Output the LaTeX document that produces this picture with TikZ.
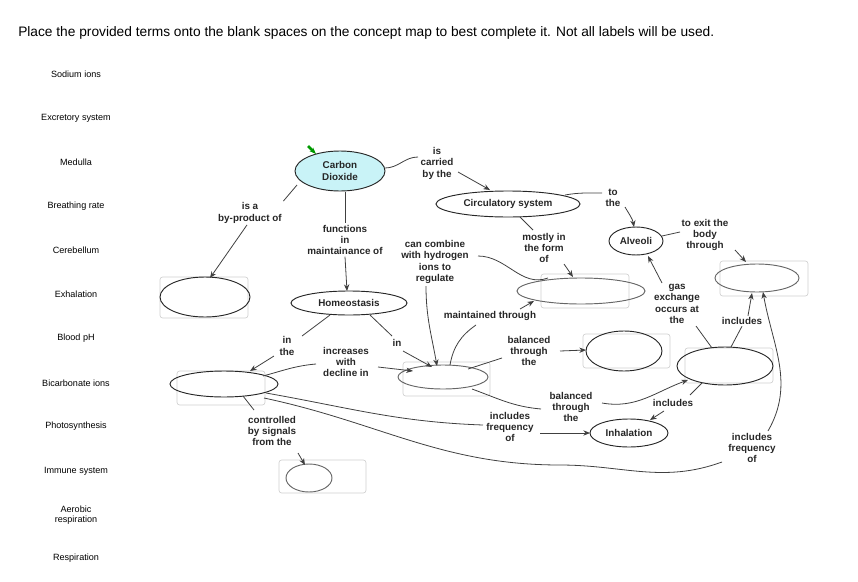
\documentclass[tikz,border=0pt]{standalone}
\usepackage{fontspec}
\setmainfont{Liberation Sans}
\usetikzlibrary{arrows.meta}
\definecolor{cyanfill}{HTML}{C9F3F7}
\definecolor{boxgray}{HTML}{D0D0D0}
\begin{document}
\begin{tikzpicture}[x=0.75pt,y=-0.75pt,
  concept/.style={draw=black!85,line width=0.7pt},
  lbl/.style={font=\fontsize{7.4}{8.6}\selectfont\bfseries,align=center,inner sep=1pt,text=black!85},
  term/.style={font=\fontsize{6.8}{8}\selectfont,align=center},
  con/.style={draw=black!75,line width=0.6pt},
  arr/.style={con,-{Stealth[length=5pt,width=4pt]}},
  blankbox/.style={draw=boxgray,rounded corners=2pt,line width=0.5pt}]
\useasboundingbox (0,0) rectangle (858,582);
\node[anchor=west,inner sep=0pt,font=\fontsize{10.3}{12}\selectfont] (head) at (18,33) {Place the provided terms onto the blank spaces on the concept map to best complete it. Not all labels will be used.};
% term list
\foreach \t/\y/\n in {Sodium ions/74/t1,Excretory system/118/t2,Medulla/162/t3,Breathing rate/206/t4,Cerebellum/250/t5,Exhalation/294/t6,Blood pH/338/t7,Bicarbonate ions/383/t8,Photosynthesis/426/t9,Immune system/471/t10,Aerobic\\respiration/515/t11,Respiration/558/t12}
  \node[term] (\n) at (76,\y) {\t};
% blank boxes
\draw[blankbox] (160,277) rectangle (248,318);
\draw[blankbox] (541,274) rectangle (629,308);
\draw[blankbox] (720,261) rectangle (808,296);
\draw[blankbox] (177,371) rectangle (265,405);
\draw[blankbox] (403,362) rectangle (490,396);
\draw[blankbox] (583,334) rectangle (670,368);
\draw[blankbox] (685,348) rectangle (773,383);
\draw[blankbox] (279,460) rectangle (366,493);
% concepts
\draw[concept,fill=cyanfill] (340,171) ellipse [x radius=45,y radius=20];
\node[lbl] (co2) at (340,171) {Carbon\\Dioxide};
\draw[concept] (508,204) ellipse [x radius=72,y radius=13];
\node[lbl] (circ) at (508,204) {Circulatory system};
\draw[concept] (636,241) ellipse [x radius=27,y radius=14];
\node[lbl] (alv) at (636,241) {Alveoli};
\draw[concept] (349,303) ellipse [x radius=58,y radius=12];
\node[lbl] (homeo) at (349,303) {Homeostasis};
\draw[concept] (629,433) ellipse [x radius=39,y radius=14];
\node[lbl] (inh) at (629,433) {Inhalation};
\draw[concept] (205,297) ellipse [x radius=45,y radius=20];
\draw[concept,black!60] (581,291) ellipse [x radius=64,y radius=13];
\draw[concept,black!60] (757,278) ellipse [x radius=42,y radius=14];
\draw[concept] (224,384) ellipse [x radius=54,y radius=13];
\draw[concept,black!60] (443,377) ellipse [x radius=45,y radius=12];
\draw[concept] (624,351) ellipse [x radius=38,y radius=20];
\draw[concept] (725,366) ellipse [x radius=48,y radius=19];
\draw[concept,black!60] (309,478) ellipse [x radius=23,y radius=14];
% green pin
\draw[green!60!black,line width=2pt,-{Stealth[length=5pt]}] (308,146) -- (316,154);
% labels
\node[lbl] (l1) at (250,213) {is a\\by-product of};
\node[lbl] (l2) at (437,163) {is\\carried\\by the};
\node[lbl] (l3) at (345,240) {functions\\in\\maintainance of};
\node[lbl] (l4) at (435,262) {can combine\\with hydrogen\\ions to\\regulate};
\node[lbl] (l5) at (544,248) {mostly in\\the form\\of};
\node[lbl] (l6) at (613,198) {to\\the};
\node[lbl] (l7) at (705,235) {to exit the\\body\\through};
\node[lbl] (l8) at (677,304) {gas\\exchange\\occurs at\\the};
\node[lbl] (l9) at (742,321) {includes};
\node[lbl] (l10) at (490,316) {maintained through};
\node[lbl] (l11) at (287,346) {in\\the};
\node[lbl] (l12) at (397,343) {in};
\node[lbl] (l13) at (346,362) {increases\\with\\decline in};
\node[lbl] (l14) at (529,351) {balanced\\through\\the};
\node[lbl] (l15) at (571,407) {balanced\\through\\the};
\node[lbl] (l16) at (673,403) {includes};
\node[lbl] (l17) at (510,427) {includes\\frequency\\of};
\node[lbl] (l18) at (272,431) {controlled\\by signals\\from the};
\node[lbl] (l19) at (752,448) {includes\\frequency\\of};
% connectors
\draw[con] (297,185) -- (l1.north east);
\draw[arr] (l1.south) ++(-3,0) -- (210,278);
\draw[con] (385,168) to[out=0,in=180] (418,157);
\draw[arr] (458,172) -- (490,190);
\draw[con] (345,192) -- (l3.north);
\draw[arr] (l3.south) -- (347,291);
\draw[con] (520,217) -- (533,230);
\draw[arr] (564,264) -- (573,277);
\draw[con] (565,195) to[out=10,in=180] (602,193);
\draw[arr] (625,207) to[out=-60,in=100] (634,227);
\draw[con] (662,236) -- (680,232);
\draw[arr] (735,250) -- (746,262);
\draw[con] (712,348) -- (696,326);
\draw[arr] (662,283) -- (648,256);
\draw[con] (731,347) -- (l9.south);
\draw[arr] (l9.north) ++(6,0) -- (752,293);
\draw[con] (548,278) to[out=200,in=0] (478,256);
\draw[arr] (426,286) to[out=-90,in=100] (437,366);
\draw[con] (330,315) -- (302,336);
\draw[arr] (274,356) -- (250,371);
\draw[con] (370,315) -- (392,336);
\draw[arr] (403,351) -- (432,367);
\draw[con] (263,376) to[out=15,in=185] (316,364);
\draw[arr] (378,367) -- (413,371);
\draw[con] (450,365) to[out=80,in=215] (476,325);
\draw[arr] (520,309) -- (534,301);
\draw[con] (468,369) -- (502,358);
\draw[arr] (560,351) -- (586,350);
\draw[con] (243,396) -- (254,410);
\draw[arr] (298,453) -- (305,465);
\draw[con] (472,389) to[out=-20,in=175] (541,409);
\draw[arr] (602,403) to[out=-10,in=200] (688,380);
\draw[con] (702,383) -- (690,395);
\draw[arr] (664,411) -- (650,420);
\draw[con] (266,393) to[out=-10,in=178] (483,425);
\draw[arr] (540,433) -- (590,433);
\draw[con] (264,398) to[out=-12,in=180] (560,465) to[out=0,in=200] (722,462);
\draw[arr] (768,431) to[out=60,in=-80] (763,292);
\end{tikzpicture}
\end{document}
